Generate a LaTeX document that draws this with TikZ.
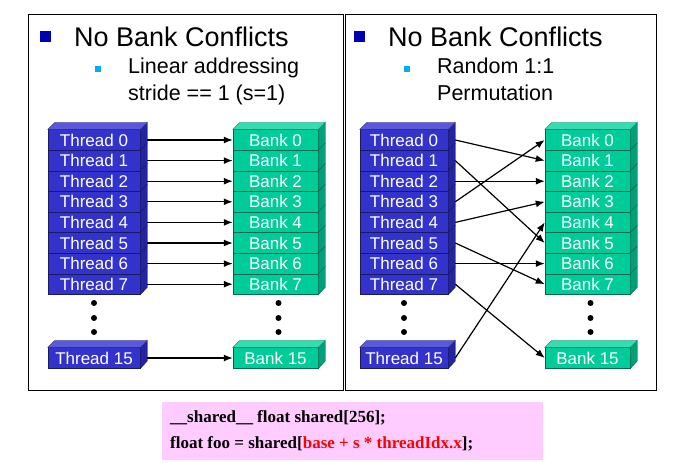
\documentclass[tikz,border=0pt]{standalone}
\usepackage{fontspec}
\setmainfont{Liberation Sans}
\newfontfamily\codefont{Liberation Serif}
\usetikzlibrary{arrows.meta}
\definecolor{thf}{HTML}{3333CC}\definecolor{tht}{HTML}{5A5AD8}\definecolor{ths}{HTML}{2424A0}
\definecolor{bkf}{HTML}{00CC99}\definecolor{bkt}{HTML}{33DDB0}\definecolor{bks}{HTML}{00A078}
\definecolor{codebg}{HTML}{FFCCFF}
\tikzset{
 cell/.style={draw=#1!50!black,line width=0.5pt,minimum height=20.6pt,inner sep=0pt,text=white,font=\fontsize{17}{17}\selectfont,anchor=center},
 thr/.style={cell=thf,fill=thf,minimum width=#1},
 bnk/.style={cell=bkf,fill=bkf,minimum width=#1},
 conn/.style={-{Latex[length=9pt,width=7pt]},line width=1.2pt},
 dot/.style={circle,fill=black,inner sep=0pt,minimum size=6pt},
 frame/.style={draw=black,line width=0.6pt}
}
% 3D decorations: side of a node, top of a node
\newcommand{\sidep}[2]{\fill[#2,draw=#2!60!black,line width=0.4pt] (#1.north east) -- ++(7,-7) -- ++(0,20.6) -- (#1.south east) -- cycle;}
\newcommand{\topp}[2]{\fill[#2,draw=#2!60!black,line width=0.4pt] (#1.north west) -- ++(7,-7) -- ([xshift=7pt,yshift=7pt]#1.north east) -- (#1.north east) -- cycle;}
\begin{document}
\begin{tikzpicture}[x=1pt,y=-1pt]
\useasboundingbox (0,0) rectangle (680,463);
\fill[white] (0,0) rectangle (680,463);
\draw[frame] (28,14) rectangle (343,390);
\draw[frame] (345,14) rectangle (656,390);
% headings
\fill[blue!70!black] (40,31) rectangle (51,42);
\node[anchor=west,font=\fontsize{27}{27}\selectfont,inner sep=0] (h1) at (74,37) {No Bank Conflicts};
\fill[cyan] (95,66) rectangle (101,72);
\node[anchor=north west,align=left,font=\fontsize{21.5}{27}\selectfont,inner sep=0] (s1) at (128,58) {Linear addressing\\stride == 1 (s=1)};
\fill[blue!70!black] (354,31) rectangle (365,42);
\node[anchor=west,font=\fontsize{27}{27}\selectfont,inner sep=0] (h2) at (388,37) {No Bank Conflicts};
\fill[cyan] (404,66) rectangle (410,72);
\node[anchor=north west,align=left,font=\fontsize{21.5}{27}\selectfont,inner sep=0] (s2) at (437,58) {Random 1:1\\Permutation};
% stacks
\foreach \p/\tx/\tw/\bx/\bw in {L/94/92/275.5/85, R/404/88/587.5/85}{
  \foreach \i in {0,...,7}{
    \node[thr=\tw pt] (\p t\i) at (\tx,140+20.6*\i) {Thread \i};
    \sidep{\p t\i}{ths}
    \node[bnk=\bw pt] (\p b\i) at (\bx,140+20.6*\i) {Bank \i};
    \sidep{\p b\i}{bks}
  }
  \topp{\p t0}{tht}\topp{\p b0}{bkt}
  \node[thr=\tw pt] (\p t15) at (\tx,358) {Thread 15};
  \sidep{\p t15}{ths}\topp{\p t15}{tht}
  \node[bnk=\bw pt] (\p b15) at (\bx,358) {Bank 15};
  \sidep{\p b15}{bks}\topp{\p b15}{bkt}
  \foreach \y in {303,318,332}{
    \node[dot] (\p td\y) at (\tx,\y) {};
    \node[dot] (\p bd\y) at (\bx+3,\y) {};
  }
}
% left connectors
\foreach \i in {0,...,7,15}{ \draw[conn] ([xshift=7pt]Lt\i.east) -- (Lb\i.west); }
% right connectors
\foreach \a/\b in {0/1,1/5,2/2,3/0,4/3,5/7,6/6,7/15,15/4}{ \draw[conn] ([xshift=7pt]Rt\a.east) -- (Rb\b.west); }
% code
\node[fill=codebg,minimum width=381pt,minimum height=58pt,inner sep=0] (code) at (352.5,431) {};
\node[anchor=west,align=left,font=\codefont\bfseries\fontsize{17}{26}\selectfont,inner sep=0] (ct) at (170,431)
 {\_\_shared\_\_ float shared[256];\\float foo = shared[\textcolor{red}{base + s * threadIdx.x}];};
\end{tikzpicture}
\end{document}
